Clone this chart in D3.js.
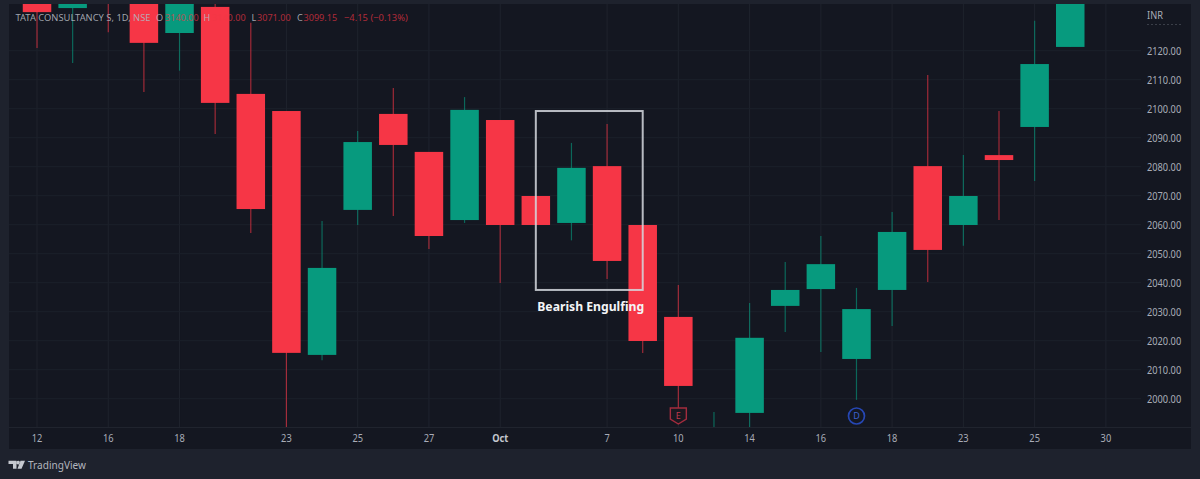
<!DOCTYPE html>
<html><head><meta charset="utf-8">
<script src="https://cdn.jsdelivr.net/npm/d3@7"></script>
<style>html,body{margin:0;padding:0;background:#1e222d;overflow:hidden}svg{display:block}text{font-family:"Noto Sans",sans-serif}</style>
</head><body><svg id="c" width="1200" height="479"></svg>
<script>
const categories=["S12","S13","S16","S17","S18","S19","S20","S23","S24","S25","S26","S27","S30","O1","O3","O4","O7","O8","O10","O11","O14","O15","O16","O17","O18","O21","O23","O24","O25","O28","O30"];
const opens =[2140,2134.7,2145,2145,2126.1,2135.1,2105.1,2099.2,2015.1,2065.1,2098.2,2085.1,2061.6,2096.1,2069.9,2060.6,2080.2,2059.9,2028.2,1980,1995.1,2032.0,2037.8,2013.7,2037.5,2080.2,2059.9,2084.0,2093.7,2121.3];
const closes=[2133.3,2140,2140,2122.7,2140,2102.0,2065.4,2015.8,2045.1,2088.5,2087.5,2056.1,2099.6,2059.9,2059.9,2079.6,2047.5,2019.9,2004.4,1988,2021.0,2037.5,2046.4,2030.9,2057.5,2051.3,2069.9,2082.3,2115.4,2145];
const highs =[2145,2145,2148,2148,2145,2140,2129.6,2099.2,2061.3,2092.3,2107.1,2085.1,2104.0,2096.1,2069.9,2088.2,2094.7,2059.9,2039.2,1995.4,2033.0,2047.1,2056.1,2038.2,2064.4,2111.6,2084.0,2099.2,2130.3,2150];
const lows  =[2120.9,2115.8,2126.4,2105.8,2113.1,2091.3,2057.1,1985,2013.3,2059.9,2063.0,2051.6,2060.6,2039.9,2059.9,2054.6,2041.3,2015.8,1996.8,1975,1985,2023.0,2016.1,1999.6,2025.1,2040.2,2052.7,2061.6,2075.1,2121.3];
const tickCats=["S12","S16","S18","S23","S25","S27","O1","O7","O10","O14","O16","O18","O23","O25","O30"];
const tickLabels=["12","16","18","23","25","27","Oct","7","10","14","16","18","23","25","30"];
const priceTicks=[2000,2010,2020,2030,2040,2050,2060,2070,2080,2090,2100,2110,2120];
const legendParts=[["TATA CONSULTANCY S, 1D, NSE",15.5,"#b2b5be"],["O",156,"#b2b5be"],["3140.00",165,"#f23645"],["H",203.5,"#b2b5be"],["3140.00",212,"#f23645"],["L",251.5,"#b2b5be"],["3071.00",257,"#f23645"],["C",297,"#b2b5be"],["3099.15",303.5,"#f23645"],["−4.15 (−0.13%)",344,"#f23645"]];
const RED="#f63646",GREEN="#079a7e",BG="#141721",PANEL="#1e222d";

const svg=d3.select("#c");
function squeeze(sel,k){sel.each(function(){this.setAttribute("textLength",(this.getComputedTextLength()*k).toFixed(1));this.setAttribute("lengthAdjust","spacingAndGlyphs");});}
svg.append("rect").attr("width",1200).attr("height",479).attr("fill",PANEL);
svg.append("rect").attr("x",9).attr("y",4).attr("width",1182).attr("height",445).attr("fill",BG);

const x=d3.scaleBand().domain(categories).range([19.2,1123.7]).paddingInner(0.2).paddingOuter(0.1);
const y=d3.scaleLinear().domain([2000,2120]).range([398.7,50.7]);
const cx=c=>x(c)+x.bandwidth()/2;

svg.append("clipPath").attr("id","plot").append("rect").attr("x",9).attr("y",4).attr("width",1182).attr("height",423);
const grid=svg.append("g").attr("clip-path","url(#plot)");
grid.selectAll("line.v").data(tickCats).join("line").attr("x1",cx).attr("x2",cx).attr("y1",4).attr("y2",427).attr("stroke","#1f232d");
grid.selectAll("line.h").data(priceTicks).join("line").attr("x1",9).attr("x2",1141).attr("y1",y).attr("y2",y).attr("stroke","#1c202a");
svg.append("line").attr("x1",9).attr("x2",1191).attr("y1",427.5).attr("y2",427.5).attr("stroke","#20242e");

const n=opens.length;
const data=d3.range(n).map(i=>({c:categories[i],o:opens[i],h:highs[i],l:lows[i],k:closes[i]}));
const marks=svg.append("g").attr("clip-path","url(#plot)");
const col=d=>d.k>=d.o?GREEN:RED;
marks.selectAll("line.w").data(data).join("line").attr("class","w")
  .attr("x1",d=>cx(d.c)).attr("x2",d=>cx(d.c)).attr("y1",d=>y(d.h)).attr("y2",d=>y(d.l))
  .attr("stroke",col).attr("stroke-opacity",0.62).attr("stroke-width",1.2);
marks.selectAll("rect.b").data(data).join("rect").attr("class","b")
  .attr("x",d=>x(d.c)).attr("width",x.bandwidth())
  .attr("y",d=>y(Math.max(d.o,d.k))).attr("height",d=>Math.abs(y(d.o)-y(d.k)))
  .attr("fill",col);

// Axes
const xAxis=d3.axisBottom(x).tickValues(tickCats).tickFormat((d,i)=>tickLabels[i]).tickSize(0).tickPadding(3);
const gx=svg.append("g").attr("transform","translate(0,432)").call(xAxis);
gx.select(".domain").remove();
gx.selectAll("text").attr("fill","#a9adb8").attr("font-size",10.5);
gx.selectAll(".tick").filter((d,i)=>tickLabels[i]==="Oct").select("text").attr("font-weight",700).attr("fill","#c4c7ce");
squeeze(gx.selectAll("text"),0.88);
const yAxis=d3.axisRight(y).tickValues(priceTicks).tickFormat(d3.format(".2f")).tickSize(0).tickPadding(0);
const gy=svg.append("g").attr("transform","translate(1147,0)").call(yAxis);
gy.select(".domain").remove();
gy.selectAll("text").attr("fill","#a9adb8").attr("font-size",10.5);
squeeze(gy.selectAll("text"),0.88);
const inr=svg.append("text").attr("x",1147).attr("y",19).attr("fill","#a9adb8").attr("font-size",10.5).text("INR");
squeeze(inr,0.88);
svg.append("line").attr("x1",1147).attr("x2",1182).attr("y1",24.5).attr("y2",24.5).attr("stroke","#3a3e48").attr("stroke-dasharray","2 2");

// Legend
const lg=svg.append("g");
const lgt=lg.selectAll("text").data(legendParts).join("text").attr("x",d=>d[1]).attr("y",21).attr("font-size",(d,i)=>i===0?9.35:(d[0].length>7?9.4:9.1)).attr("fill",d=>d[2]).attr("fill-opacity",d=>d[2]==="#f23645"?0.7:0.9).text(d=>d[0]);

// Annotation box
const boxL=x("O3")+x.bandwidth()/2, boxR=cx("O8"), priceTop=y(2099.2), priceBottom=y(2037.5);
svg.append("rect").attr("x",boxL).attr("y",priceTop).attr("width",boxR-boxL).attr("height",priceBottom-priceTop)
  .attr("fill","none").attr("stroke","#d5d8de").attr("stroke-opacity",0.85).attr("stroke-width",2);
svg.append("text").attr("x",(boxL+boxR)/2+1.5).attr("y",311).attr("text-anchor","middle").attr("fill","#f4f5f7").attr("font-size",12.2).attr("font-weight",700).text("Bearish Engulfing");

// Earnings & dividend markers
const eX=cx("O10"),dX=cx("O17");
svg.append("path").attr("d",d3.line()([[eX-8,408],[eX+8,408],[eX+8,419],[eX,424],[eX-8,419]])+"Z").attr("fill","#1a1820").attr("stroke","#a32c3e").attr("stroke-width",1.4);
svg.append("text").attr("x",eX).attr("y",419).attr("text-anchor","middle").attr("font-size",9).attr("fill","#c0394c").text("E");
svg.append("circle").attr("cx",dX).attr("cy",416).attr("r",8).attr("fill",BG).attr("stroke","#2647b4").attr("stroke-width",1.7);
svg.append("text").attr("x",dX).attr("y",419).attr("text-anchor","middle").attr("font-size",9).attr("fill","#3a62d0").text("D");

// Footer logo
svg.append("path").attr("d","M8.5 460.7H16.5V468.7H13V464H8.5ZM18.2 460.7a1.9 1.9 0 1 0 .01 0ZM20.5 460.7H25L21.5 468.7H17.5Z").attr("fill","#c5c8cf");
svg.append("text").attr("x",28).attr("y",469).attr("font-size",11.5).attr("fill","#b2b5be").attr("textLength",58).attr("lengthAdjust","spacingAndGlyphs").text("TradingView");
</script></body></html>
